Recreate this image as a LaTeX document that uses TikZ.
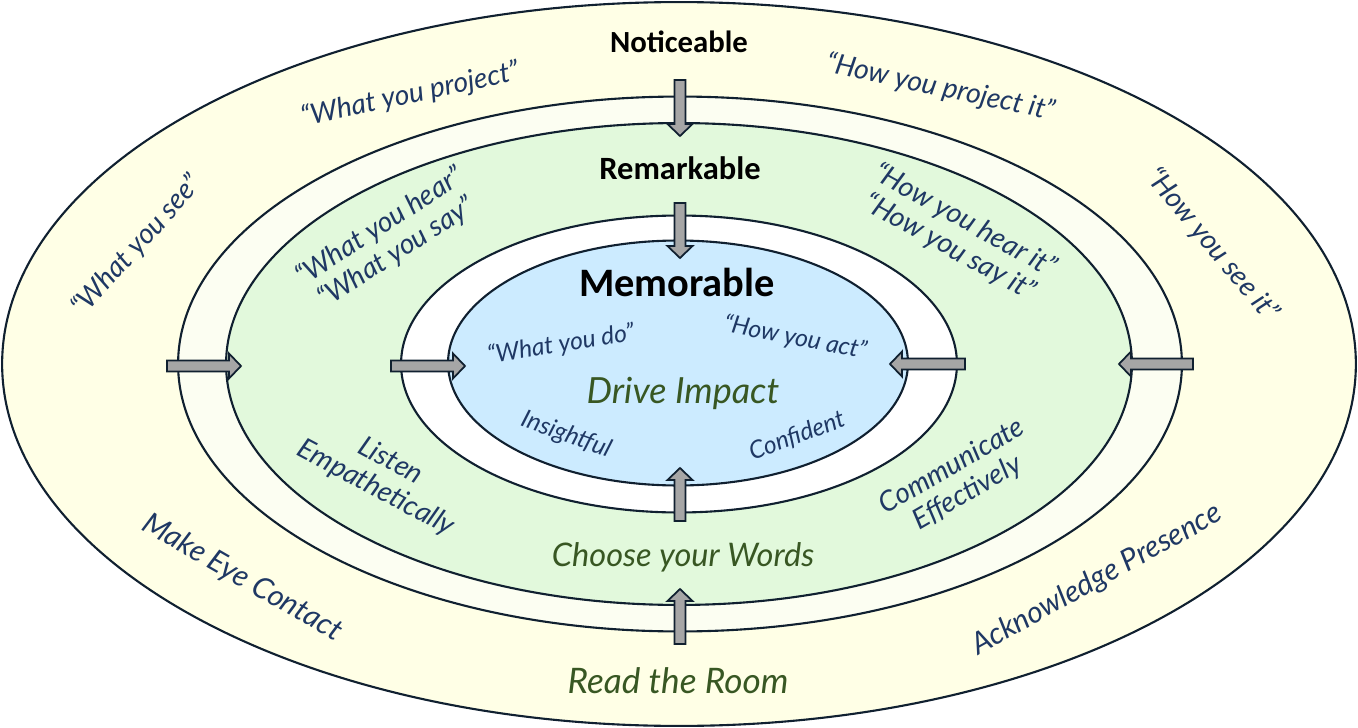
\documentclass[tikz,border=0pt]{standalone}
\usepackage{fontspec}
\setmainfont{Carlito}
\newfontfamily\handfont{Lato}
\usepackage{tikz}
\usetikzlibrary{shapes.geometric}
\definecolor{rimline}{RGB}{16,32,48}
\definecolor{outerfill}{RGB}{255,255,230}
\definecolor{ringfill}{RGB}{252,254,242}
\definecolor{greenfill}{RGB}{226,249,220}
\definecolor{bluefill}{RGB}{204,235,255}
\definecolor{arrowgray}{RGB}{166,166,166}
\definecolor{quoteblue}{RGB}{31,56,100}
\definecolor{deepgreen}{RGB}{56,87,35}
\tikzset{
  rim/.style={ellipse,draw=rimline,line width=1.2pt,inner sep=0pt},
  arrowbody/.style={draw=rimline,fill=arrowgray,line width=1pt,line join=miter},
  headtext/.style={font=\bfseries\fontsize{18}{21}\selectfont,text=black,inner sep=1pt},
  quote/.style={font=\handfont\itshape\fontsize{16}{17.5}\selectfont,text=quoteblue,align=center,inner sep=1pt},
  smallquote/.style={quote,font=\handfont\itshape\fontsize{14}{16}\selectfont},
  keytext/.style={font=\handfont\itshape\fontsize{20}{24}\selectfont,text=deepgreen,inner sep=1pt},
  pics/barrow/.style={code={
    \draw[arrowbody] (-#1,-5.5) -- (#1-12,-5.5) -- (#1-12,-12.5) -- (#1,0)
      -- (#1-12,12.5) -- (#1-12,5.5) -- (-#1,5.5) -- cycle;}}
}
\begin{document}
\begin{tikzpicture}[x=0.02cm,y=0.02cm]
  \useasboundingbox (-679,-363) rectangle (679,364);

  \node[rim,fill=outerfill,minimum width=27.08cm,minimum height=14.48cm] (noticering) at (0,0) {};
  \node[rim,fill=ringfill,minimum width=20.08cm,minimum height=10.70cm] (gapouter) at (1,0) {};
  \node[rim,fill=greenfill,minimum width=18.12cm,minimum height=9.64cm] (remarkring) at (0,0) {};
  \node[rim,fill=white,minimum width=11.12cm,minimum height=5.94cm] (gapinner) at (0,0) {};
  \node[rim,fill=bluefill,minimum width=9.2cm,minimum height=4.9cm] (memocore) at (-1,1) {};

  \pic[rotate=-90] at (1,256) {barrow=28};
  \pic[rotate=-90] at (1,133.5) {barrow=27.5};
  \pic[rotate=90] at (1,-130.5) {barrow=26.5};
  \pic[rotate=90] at (1,-252.5) {barrow=27.5};
  \pic at (-475,-2) {barrow=37};
  \pic at (-251,-2) {barrow=37};
  \pic[rotate=180] at (248.5,0) {barrow=37.5};
  \pic[rotate=180] at (477,0) {barrow=37};

  \node[headtext,font=\bfseries\fontsize{17.5}{21}\selectfont] (noticeable) at (0,322) {Noticeable};
  \node[headtext,font=\bfseries\fontsize{18.5}{22}\selectfont] (remarkable) at (1,196) {Remarkable};
  \node[headtext,font=\bfseries\fontsize{23}{27}\selectfont] (memorable) at (-2,82) {Memorable};

  \node[quote,rotate=12] (wproject) at (-269,269) {“What you project”};
  \node[quote,rotate=-12] (hproject) at (261,276) {“How you project it”};
  \node[quote,rotate=48] (wsee) at (-542,118) {“What you see”};
  \node[quote,rotate=-50] (hsee) at (533,119) {“How you see it”};
  \node[quote,rotate=33] (whear) at (-291,124) {“What you hear”\\“What you say”};
  \node[quote,rotate=-29] (hhear) at (278,130) {“How you hear it”\\“How you say it”};

  \node[smallquote,rotate=9] (wdo) at (-118,19) {“What you do”};
  \node[smallquote,rotate=-11] (hact) at (116,26) {“How you act”};
  \node[keytext,font=\handfont\itshape\fontsize{20.5}{24}\selectfont] (drive) at (4,-29) {Drive Impact};
  \node[smallquote,rotate=-20] (insight) at (-113,-71) {Insightful};
  \node[smallquote,rotate=20] (confident) at (118,-72) {Confident};

  \node[quote,rotate=-28] (listen) at (-296,-111) {Listen\\Empathetically};
  \node[quote,rotate=30] (communicate) at (281,-116) {Communicate\\Effectively};
  \node[keytext,font=\handfont\itshape\fontsize{18.5}{22}\selectfont] (choose) at (4,-193) {Choose your Words};

  \node[quote,font=\handfont\itshape\fontsize{17}{20}\selectfont,rotate=-30] (eyecontact) at (-437,-214) {Make Eye Contact};
  \node[quote,font=\handfont\itshape\fontsize{17}{20}\selectfont,rotate=29] (acknowledge) at (418,-216) {Acknowledge Presence};
  \node[keytext,font=\handfont\itshape\fontsize{20}{24}\selectfont] (readroom) at (-1,-317) {Read the Room};
\end{tikzpicture}
\end{document}
